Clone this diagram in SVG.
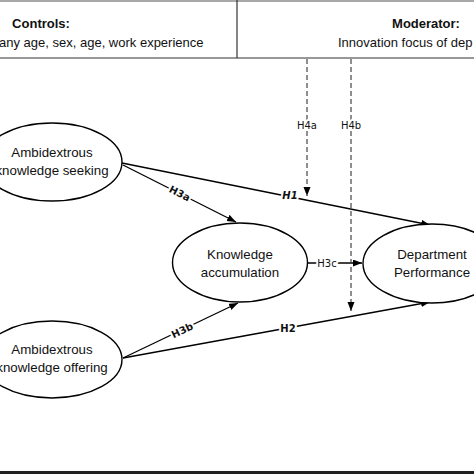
<svg xmlns="http://www.w3.org/2000/svg" width="474" height="474" viewBox="0 0 474 474">
<style>
.node{fill:#fff;stroke:#000;stroke-width:1.4}
.nt{font-family:"Liberation Sans",Arial,sans-serif;font-size:13.3px;fill:#111;text-anchor:middle}
.hd{font-family:"Liberation Sans",Arial,sans-serif;font-size:13px;fill:#111}
.hb{font-weight:bold}
.ln{stroke:#000;stroke-width:1.3;fill:none}
.ds{stroke:#444;stroke-width:1.2;fill:none;stroke-dasharray:5 3}
.lb{font-family:"DejaVu Sans",Verdana,sans-serif;font-size:10px;fill:#111;text-anchor:middle;stroke:#fff;stroke-width:4;paint-order:stroke;stroke-linejoin:round}
</style>
<defs>
<marker id="ah" markerUnits="userSpaceOnUse" markerWidth="10" markerHeight="8" refX="9" refY="3.5" orient="auto">
<path d="M0,0 L9,3.5 L0,7 z" fill="#000"/>
</marker>
</defs>
<rect width="474" height="474" fill="#fff"/>
<g id="header">
<rect x="0" y="0" width="474" height="2" fill="#a8a8a8"/>
<line x1="237" y1="0" x2="237" y2="58" stroke="#333" stroke-width="1.2"/>
<line x1="0" y1="58" x2="474" y2="58" stroke="#333" stroke-width="1.2"/>
<text class="hd hb" x="41" y="28" text-anchor="middle">Controls:</text>
<text class="hd" x="-1" y="47">any age, sex, age, work experience</text>
<text class="hd hb" x="426" y="28" text-anchor="middle">Moderator:</text>
<text class="hd" x="338" y="47">Innovation focus of dep</text>
</g>
<rect x="0" y="471" width="474" height="3" fill="#222"/>
<g id="connectors">
<line class="ln" x1="122" y1="163" x2="430" y2="225" marker-end="url(#ah)"/>
<line class="ln" x1="123" y1="165" x2="236" y2="222" marker-end="url(#ah)"/>
<line class="ln" x1="123" y1="358" x2="238" y2="303" marker-end="url(#ah)"/>
<line class="ln" x1="123" y1="358" x2="430" y2="302" marker-end="url(#ah)"/>
<line class="ln" x1="307" y1="263" x2="362" y2="263" marker-end="url(#ah)"/>
<line class="ds" x1="307" y1="59" x2="307" y2="196" marker-end="url(#ah)"/>
<line class="ds" x1="351" y1="59" x2="351" y2="311" marker-end="url(#ah)"/>
<text class="lb" x="290" y="199" font-weight="bold" font-style="italic">H1</text>
<text class="lb" x="180" y="197" font-weight="bold" transform="rotate(27 180 193)">H3a</text>
<text class="lb" x="182" y="334" font-weight="bold" transform="rotate(-25.6 182 330)">H3b</text>
<text class="lb" x="288" y="332" font-weight="bold">H2</text>
<text class="lb" x="327" y="267">H3c</text>
<text class="lb" x="307" y="129">H4a</text>
<text class="lb" x="351" y="129">H4b</text>
</g>
<g id="seeking">
<ellipse class="node" cx="52" cy="162" rx="70" ry="39"/>
<text class="nt" x="52" y="157">Ambidextrous</text>
<text class="nt" x="52" y="175">knowledge seeking</text>
</g>
<g id="offering">
<ellipse class="node" cx="52" cy="359.5" rx="70" ry="38.5"/>
<text class="nt" x="52" y="354">Ambidextrous</text>
<text class="nt" x="52" y="372">knowledge offering</text>
</g>
<g id="accumulation">
<ellipse class="node" cx="240" cy="262.5" rx="67.5" ry="39.5"/>
<text class="nt" x="240" y="259">Knowledge</text>
<text class="nt" x="240" y="277">accumulation</text>
</g>
<g id="performance">
<ellipse class="node" cx="432" cy="263.5" rx="69" ry="39.5"/>
<text class="nt" x="432" y="259">Department</text>
<text class="nt" x="432" y="277">Performance</text>
</g>
</svg>
